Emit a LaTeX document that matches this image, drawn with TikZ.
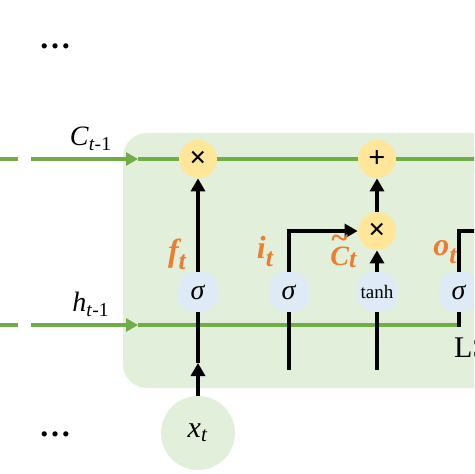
\documentclass[tikz,border=0pt]{standalone}
\usepackage{graphicx}
\usepackage{fontspec}
\setmainfont{Liberation Serif}
\usetikzlibrary{positioning,calc,arrows.meta}
\definecolor{cellgreen}{RGB}{226,239,218}
\definecolor{linegreen}{RGB}{112,173,71}
\definecolor{opyellow}{RGB}{255,230,153}
\definecolor{gateblue}{RGB}{222,235,247}
\definecolor{gateorange}{RGB}{237,125,49}
\newcommand{\gsub}[1]{\raisebox{-4pt}{\fontsize{13}{13}\selectfont #1}}

\begin{document}
\begin{tikzpicture}[x=0.5pt,y=-0.5pt,
	gline/.style={draw=linegreen,line width=2pt},
	bline/.style={draw=black,line width=2pt},
	garr/.style={gline,-{Triangle[length=6pt,width=6.5pt]}},
	barr/.style={bline,-{Triangle[length=6.5pt,width=7pt]}},
	opnode/.style={circle,fill=opyellow,minimum size=19pt,inner sep=0pt,font=\fontsize{15}{15}\selectfont\bfseries},
	gatenode/.style={rounded corners=8.5pt,fill=gateblue,minimum width=20.5pt,minimum height=20pt,inner sep=0pt},
	lab/.style={text=gateorange,font=\fontsize{16}{16}\selectfont\bfseries\itshape}]
		\useasboundingbox (0,0) rectangle (474,474);
		\clip (0,0) rectangle (474,474);
		\fill[cellgreen,rounded corners=12pt] (123,133) rectangle (560,388);
		
		% operations and gates
		\node[opnode] (mf) at (198,159) {×};
		\node[opnode] (ap) at (377,159) {+};
		\node[opnode] (mi) at (377,231) {×};
		\node[gatenode] (sf) at (198,292) {\fontsize{14}{14}\selectfont\textit{σ}};
		\node[gatenode] (si) at (289,292) {\fontsize{14}{14}\selectfont\textit{σ}};
		\node[gatenode] (st) at (377,292) {\fontsize{9.5}{9.5}\selectfont tanh};
		\node[gatenode] (so) at (459,292) {\fontsize{14}{14}\selectfont\textit{σ}};
		\node[circle,fill=cellgreen,minimum size=37pt,inner sep=0pt] (xt) at (198,433) {\fontsize{15}{15}\selectfont\textit{x}\textsubscript{\textit{t}}};
		
		\coordinate (c0) at (0,159);
		\coordinate (c1) at (18,159);
		\coordinate (c2) at (31,159);
		\coordinate (c3) at (138,159);
		\coordinate (c4) at (480,159);
		\coordinate (h0) at (0,325);
		\coordinate (h1) at (18,325);
		\coordinate (h2) at (31,325);
		\coordinate (h3) at (138,325);
		\coordinate (h4) at (459,325);
		
		% cell state and hidden state
		\draw[gline] (c0) -- (c1);
		\draw[garr] (c2) -- (c3);
		\draw[gline] (c3) -- (mf.west);
		\draw[gline] (mf.east) -- (ap.west);
		\draw[gline] (ap.east) -- (c4);
		\draw[gline] (h0) -- (h1);
		\draw[garr] (h2) -- (h3);
		\draw[gline] (h3) -- (h4);
		
		\node[anchor=base] (cl) at (91,146) {\fontsize{14}{14}\selectfont\textit{C}\textsubscript{\textit{t}-1}};
		\node[anchor=base] (hl) at (91,312) {\fontsize{14}{14}\selectfont\textit{h}\textsubscript{\textit{t}-1}};
		
		% gate connections
		\coordinate (xa) at (198,363);
		\draw[barr] (xt.north) -- (xa);
		\draw[bline] (xa) -- (sf.south);
		\draw[barr] (sf.north) -- (mf.south);
		\draw[barr] (si.north) |- (mi.west);
		\draw[barr] (st.north) -- (mi.south);
		\draw[barr] (mi.north) -- (ap.south);
		\coordinate (oc) at (480,231);
		\draw[bline] (so.north) |- (oc);
		\coordinate (ie) at (289,370);
		\coordinate (te) at (377,370);
		\coordinate (oe) at (459,327);
		\draw[bline] (si.south) -- (ie);
		\draw[bline] (st.south) -- (te);
		\draw[bline] (so.south) -- (oe);
		
		\node[lab] (fl) at (177,254) {f\gsub{t}};
		\node[lab] (il) at (265,252) {i\gsub{t}};
		\node[lab,anchor=base west,inner sep=0pt] (gl) at (330,266) {\makebox[0pt][l]{\raisebox{8.5pt}{\fontsize{16}{16}\selectfont\textasciitilde}}{\fontsize{14}{14}\selectfont C}\raisebox{-1pt}{\fontsize{13}{13}\selectfont t}};
		\node[lab] (ol) at (445,252) {o\gsub{t}};
		\node[anchor=base west,font=\fontsize{15}{15}\selectfont] (ls) at (447,357) {LSTM};
		
		\node (dt) at (55,46) {\fontsize{16}{16}\selectfont\textbf{…}};
		\node (db) at (55,434) {\fontsize{16}{16}\selectfont\textbf{…}};
\end{tikzpicture}
\end{document}
